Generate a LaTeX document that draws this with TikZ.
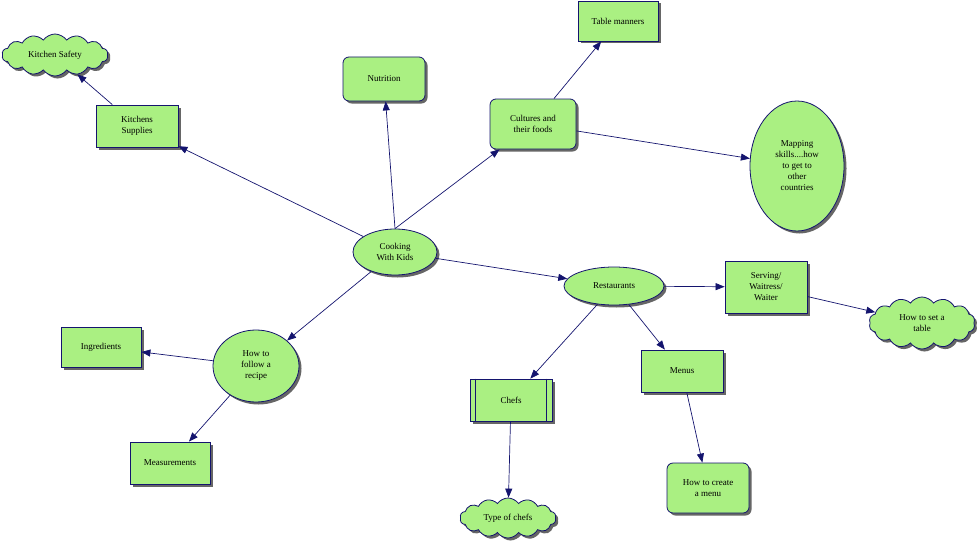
\documentclass[tikz,border=0pt]{standalone}
\usepackage{fontspec}
\setmainfont{Liberation Serif}
\usetikzlibrary{calc,shapes.geometric,shapes.symbols,shapes.multipart,shadows,arrows.meta}
\definecolor{fillg}{RGB}{170,240,130}
\definecolor{navy}{RGB}{20,20,110}
\tikzset{
 base/.style={draw=navy,fill=fillg,line width=0.8pt,align=center,font=\fontsize{9}{11}\selectfont,inner sep=1pt,
   drop shadow={shadow xshift=2.5pt,shadow yshift=-2.5pt,fill=black!60,opacity=1}},
 box/.style={base,rectangle},
 rbox/.style={base,rectangle,rounded corners=6pt},
 ell/.style={base,ellipse},
 cl/.style={base,cloud,cloud puffs=14,cloud puff arc=110,aspect=2.5},
 ar/.style={draw=navy,line width=0.7pt,-{Triangle[length=9pt,width=7pt]}}
}
\begin{document}
\begin{tikzpicture}[x=1pt,y=-1pt]
\useasboundingbox (0,0) rectangle (979,543);
\node[cl,minimum width=106,minimum height=42] (ks) at (55,55) {Kitchen Safety};
\node[box,minimum width=82,minimum height=42] (sup) at (137,126) {Kitchens\\Supplies};
\node[rbox,minimum width=82,minimum height=44] (nut) at (384,79) {Nutrition};
\node[box,minimum width=80,minimum height=40] (tm) at (618,21) {Table manners};
\node[rbox,minimum width=86,minimum height=50] (cul) at (533,124) {Cultures and\\their foods};
\node[ell,minimum width=94,minimum height=130] (map) at (797,166) {Mapping\\skills....how\\to get to\\other\\countries};
\node[ell,minimum width=84,minimum height=46] (ck) at (395,252) {Cooking\\With Kids};
\node[ell,minimum width=100,minimum height=38] (res) at (614,286) {Restaurants};
\node[box,minimum width=82,minimum height=52] (srv) at (766,287) {Serving/\\Waitress/\\Waiter};
\node[cl,minimum width=106,minimum height=52] (set) at (922,323) {How to set a\\table};
\node[box,minimum width=80,minimum height=40] (ing) at (101,347) {Ingredients};
\node[ell,minimum width=86,minimum height=72] (rec) at (256,366) {How to\\follow a\\recipe};
\node[box,minimum width=80,minimum height=42] (mea) at (170,463) {Measurements};
\node[box,minimum width=82,minimum height=42] (chef) at (511,400) {Chefs};
\draw[navy,line width=0.8pt] ($(chef.north west)+(6,0)$) -- ($(chef.south west)+(6,0)$)
  ($(chef.north east)+(-6,0)$) -- ($(chef.south east)+(-6,0)$);
\node[box,minimum width=82,minimum height=42] (men) at (682,371) {Menus};
\node[rbox,minimum width=82,minimum height=50] (crm) at (708,488) {How to create\\a menu};
\node[cl,minimum width=96,minimum height=40] (toc) at (508,518) {Type of chefs};
\draw[ar] (ck) -- (sup);
\draw[ar] (sup) -- (ks);
\draw[ar] (ck.north) -- (nut);
\draw[ar] (ck.north) -- (cul);
\draw[ar] (cul) -- (tm);
\draw[ar] (cul) -- (map);
\draw[ar] (ck) -- (res);
\draw[ar] (res) -- (srv);
\draw[ar] (srv) -- (set);
\draw[ar] (res) -- (chef);
\draw[ar] (res) -- (men);
\draw[ar] (men) -- (crm);
\draw[ar] (chef) -- (toc);
\draw[ar] (ck) -- (rec);
\draw[ar] (rec) -- (ing);
\draw[ar] (rec) -- (mea);
\end{tikzpicture}
\end{document}
